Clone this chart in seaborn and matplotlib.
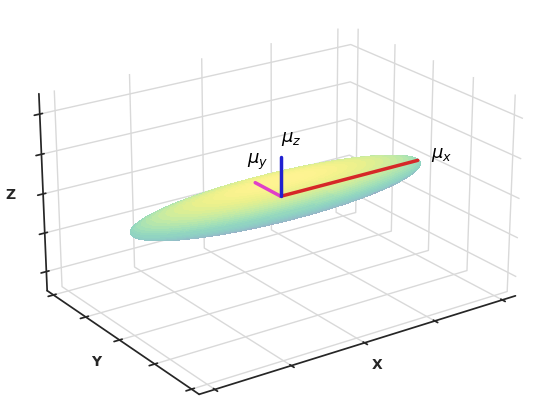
import numpy as np
import matplotlib
matplotlib.use("Agg")
import matplotlib.pyplot as plt
import seaborn as sns

sns.set_theme(style="white")
plt.rcParams['font.family'] = ['DejaVu Sans']

radii = [1.0, 0.35, 0.08]          # semi-axes along x, y, z
center = [0.0, 0.0, 0.0]
vec_names = [r"$\mu_x$", r"$\mu_y$", r"$\mu_z$"]
vec_colors = ["#d62728", "#e040c8", "#2020d0"]
vec_lengths = [1.0, 0.35, 0.2]
lims = [-1.1, 1.1]
zlims = [-0.5, 0.5]

u = np.linspace(0, 2 * np.pi, 80)
v = np.linspace(0, np.pi, 40)
X = center[0] + radii[0] * np.outer(np.cos(u), np.sin(v))
Y = center[1] + radii[1] * np.outer(np.sin(u), np.sin(v))
Z = center[2] + radii[2] * np.outer(np.ones_like(u), np.cos(v))

fig = plt.figure(figsize=(5.5, 4.06), dpi=100)
ax = fig.add_axes([-0.02, -0.02, 1.04, 1.04], projection='3d')
norm = (Z - Z.min()) / (Z.max() - Z.min())
cols = plt.cm.viridis(0.1 + 0.9 * norm)
cols = cols * 0.5 + 0.5
cols[..., 3] = 1.0
ax.plot_surface(X, Y, Z, facecolors=cols, linewidth=0, antialiased=False, shade=False)

dirs = np.eye(3)
for name, c, L, d in zip(vec_names, vec_colors, vec_lengths, dirs):
    end = np.array(center) + L * d
    ax.plot([center[0], end[0]], [center[1], end[1]], [center[2], end[2]],
            color=c, lw=2.5, zorder=10)
offs = {0: (0.1, 0, 0.0), 1: (0, 0.12, 0.08), 2: (0, 0, 0.08)}
for i, (name, L, d) in enumerate(zip(vec_names, vec_lengths, dirs)):
    end = np.array(center) + L * d + np.array(offs[i])
    ax.text(end[0], end[1], end[2], name, fontsize=13, color='black', zorder=20)

ax.set_xlim(lims); ax.set_ylim(lims); ax.set_zlim(zlims)
ax.set_xticks(np.linspace(-1, 1, 5)); ax.set_yticks(np.linspace(-1, 1, 5))
ax.set_zticks(np.linspace(-0.4, 0.4, 5))
ax.set_xlabel("X", fontsize=10, fontweight='bold', labelpad=-10)
ax.set_ylabel("Y", fontsize=10, fontweight='bold', labelpad=-10)
ax.set_zlabel("Z", fontsize=10, fontweight='bold', labelpad=-10)
ax.set_xticklabels([]); ax.set_yticklabels([]); ax.set_zticklabels([])
for a in (ax.xaxis, ax.yaxis, ax.zaxis):
    a.set_pane_color((1, 1, 1, 1))
    a._axinfo['grid']['color'] = (0.85, 0.85, 0.85, 1)
ax.view_init(elev=22, azim=-125)
ax.set_box_aspect((1.35, 1.0, 0.75), zoom=1.2)
fig.savefig("out.png", dpi=100)
